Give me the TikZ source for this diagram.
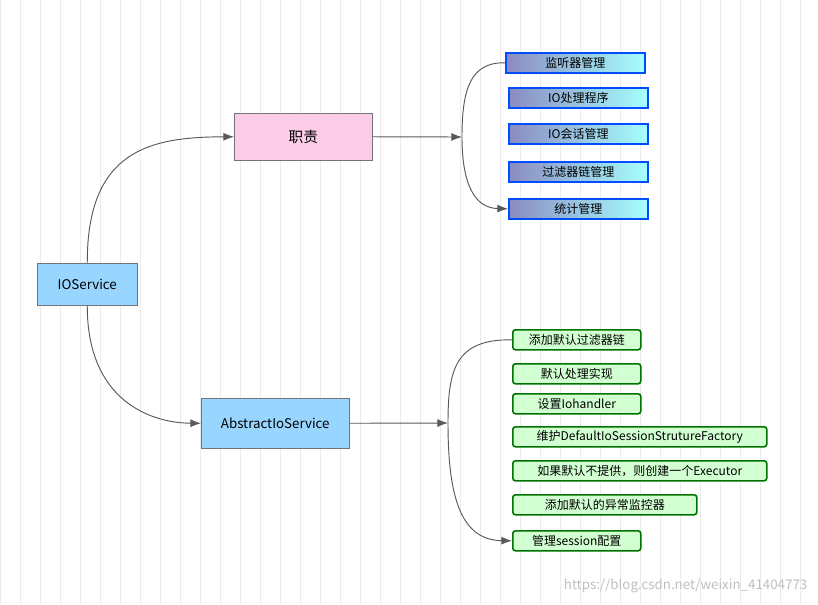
\documentclass[tikz,border=0pt]{standalone}
\usepackage{fontspec}
\usetikzlibrary{arrows.meta}
\setmainfont{Noto Sans CJK SC}
\begin{document}
\begin{tikzpicture}[x=0.75pt,y=-0.75pt,
  base/.style={draw, inner sep=0pt, anchor=north west, align=center, font=\fontsize{10}{12}\selectfont},
  main/.style={base, draw=black!55, fill=blue!40!cyan!40},
  duty/.style={base, draw=black!55, fill=magenta!20, font=\fontsize{11}{13}\selectfont},
  blu/.style={base, draw=blue!70!cyan, line width=1.2pt, left color=blue!30!gray!70, right color=cyan!35, font=\fontsize{9}{11}\selectfont},
  grn/.style={base, draw=green!45!black, line width=1.2pt, fill=green!18, rounded corners=2pt, font=\fontsize{9}{11}\selectfont},
  con/.style={draw=black!65, line width=0.7pt},
  arr/.style={con, -{Latex[length=8pt,width=6pt]}}]
\useasboundingbox (0,0) rectangle (818,604);
\fill[white] (0,0) rectangle (818,604);
\draw[black!8, line width=0.5pt, step=20] (0,0) grid (818,604);
\node[main, minimum width=100pt*0.75, minimum height=42*0.75pt] (ios) at (37,263) {IOService};
\node[duty, minimum width=138*0.75pt, minimum height=47*0.75pt] (duty) at (234,113) {职责};
\node[main, minimum width=148*0.75pt, minimum height=50*0.75pt] (abs) at (201,398) {AbstractIoService};
\foreach \n/\x/\y/\t in {b1/505/52/监听器管理, b2/508/87/IO处理程序, b3/508/123/IO会话管理, b4/508/161/过滤器链管理, b5/508/198/统计管理}
  \node[blu, minimum width=139*0.75pt, minimum height=20*0.75pt] (\n) at (\x,\y) {\t};
\foreach \n/\x/\y/\w/\t in {g1/512/329/128/添加默认过滤器链, g2/512/363/128/默认处理实现, g3/512/393/128/设置Iohandler, g4/512/426/254/维护DefaultIoSessionStrutureFactory, g5/512/460/254/如果默认不提供，则创建一个Executor, g6/512/494/184/添加默认的异常监控器, g7/512/530/128/管理session配置}
  \node[grn, minimum width=\w*0.75pt, minimum height=20*0.75pt] (\n) at (\x,\y) {\t};
\coordinate (j1) at (462,137);
\coordinate (j2) at (448,423);
\draw[arr] (ios.north) .. controls (87,150) and (150,137) .. (duty.west);
\draw[arr] (ios.south) .. controls (87,400) and (150,423) .. (abs.west);
\draw[arr] (duty.east) -- (j1);
\draw[arr] (abs.east) -- (j2);
\draw[con] (b1.west) .. controls (470,62) and (462,90) .. (j1);
\draw[arr] (j1) .. controls (462,185) and (475,208) .. (b5.west);
\draw[con] (g1.west) .. controls (455,339) and (448,370) .. (j2);
\draw[arr] (j2) .. controls (448,500) and (462,540) .. (g7.west);
\node[text=black!25, anchor=south east, font=\fontsize{10}{12}\selectfont] (wm) at (812,598) {https://blog.csdn.net/weixin\_41404773};
\end{tikzpicture}
\end{document}
